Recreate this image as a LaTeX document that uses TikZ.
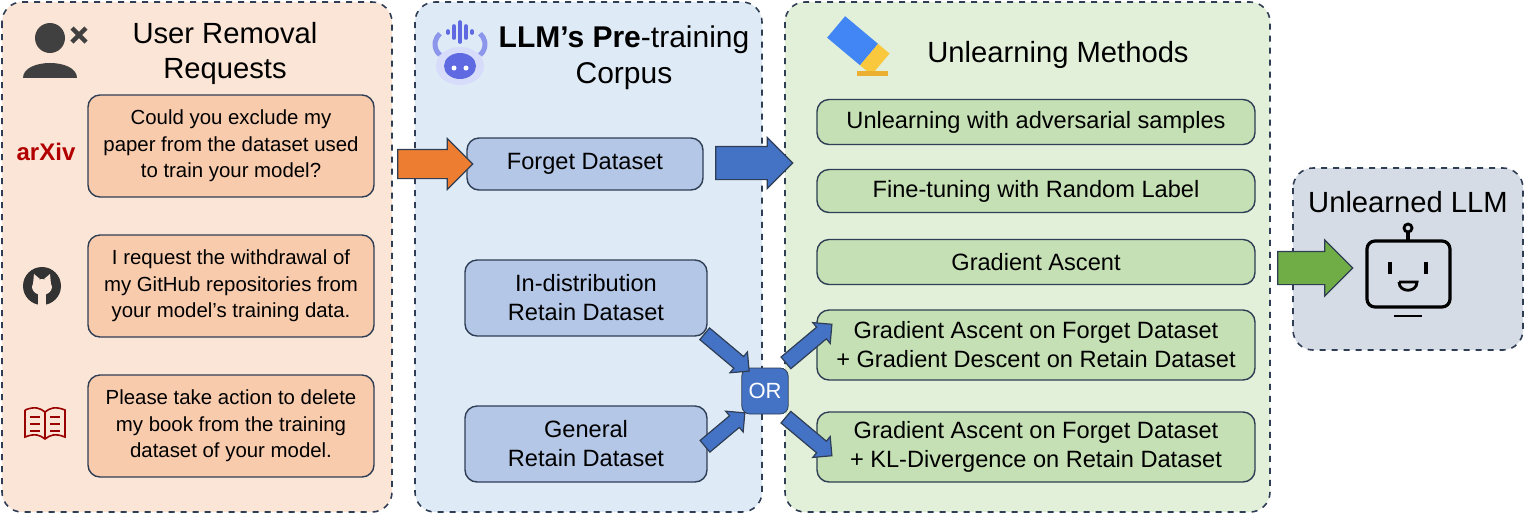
\documentclass[tikz,border=0pt]{standalone}
\usepackage{fontspec}
\setmainfont{Liberation Sans}
\usetikzlibrary{shapes.arrows,shapes.geometric}
\definecolor{pA}{HTML}{FBE5D6}\definecolor{pB}{HTML}{DEEBF7}\definecolor{pC}{HTML}{E2F0D9}\definecolor{pD}{HTML}{D6DCE5}
\definecolor{bA}{HTML}{F8CBAD}\definecolor{bB}{HTML}{B4C7E7}\definecolor{bC}{HTML}{C5E0B4}
\definecolor{edge}{HTML}{2F3E55}\definecolor{aO}{HTML}{ED7D31}\definecolor{aB}{HTML}{4472C4}\definecolor{aG}{HTML}{70AD47}
\begin{document}
\begin{tikzpicture}[x=0.5pt,y=-0.5pt,
 panel/.style={draw=edge,dashed,line width=0.8pt,rounded corners=10pt},
 box/.style={draw=edge,line width=0.7pt,rounded corners=6pt,align=center,font=\fontsize{10.2}{13.2}\selectfont},
 mbox/.style={box,font=\fontsize{11.8}{14.5}\selectfont},
 title/.style={font=\fontsize{14.6}{17.5}\selectfont,align=center},
 fat/.style n args={2}{single arrow,draw=edge,line width=0.6pt,inner sep=0pt,text height=0pt,text depth=0pt,
   minimum width=#2,single arrow head extend={(#2-#1)/2},shape border uses incircle=false,
   text width=0pt},
 fat/.style n args={2}{single arrow,draw=edge,line width=0.6pt,font=\fontsize{1}{1}\selectfont,
   inner ysep=#1/2,inner xsep=0pt,single arrow head extend=#2/2-#1/2}]
\useasboundingbox (0,0) rectangle (1527,516);
\draw[panel,fill=pA] (2,2) rectangle (392,512);
\draw[panel,fill=pB] (415,2) rectangle (762,512);
\draw[panel,fill=pC] (785,2) rectangle (1270,512);
\draw[panel,fill=pD] (1293,168) rectangle (1523,350);
% titles
\node[title] (t1) at (225,53) {User Removal\\Requests};
\node[title,font=\fontsize{15}{18}\selectfont] (t2) at (624,58) {\textbf{LLM's Pre}-training\\Corpus};
\node[title] (t3) at (1058,55) {Unlearning Methods};
\node[title] (t4) at (1408,202) {Unlearned LLM};
% person icon
\fill[black!75] (50,38) circle (15);
\fill[black!75] (23,78) .. controls (23,58) and (77,58) .. (77,78) -- cycle;
\draw[black!75,line width=2.2pt] (72,28)--(86,42) (86,28)--(72,42);
% arxiv
\node[text=red!70!black,font=\bfseries\fontsize{12}{14}\selectfont] (ax) at (46,152) {arXiv};
% github
\fill[black!80] (42,286) circle (19);
\fill[pA] (42,287) ellipse (10 and 8);
\fill[pA] (38,292) rectangle (46,306);
\fill[pA] (33,284) -- (34,274) -- (40,279) -- cycle (51,284) -- (50,274) -- (44,279) -- cycle;
% book
\begin{scope}[draw=red!60!black,line width=0.8pt]
\draw (25,410) -- (25,437) .. controls (35,433) and (40,435) .. (45,439) .. controls (50,435) and (55,433) .. (65,437) -- (65,410) .. controls (55,406) and (50,408) .. (45,412) .. controls (40,408) and (35,406) .. (25,410);
\draw (45,412)--(45,439);
\foreach \y in {417,424,431}{\draw (30,\y)--(40,\y) (50,\y)--(60,\y);}
\end{scope}
% request boxes
\node[box,fill=bA,minimum width=143pt,minimum height=51pt] (r1) at (231,146) {Could you exclude my\\paper from the dataset used\\to train your model?};
\node[box,fill=bA,minimum width=143pt,minimum height=51pt] (r2) at (231,286) {I request the withdrawal of\\my GitHub repositories from\\your model's training data.};
\node[box,fill=bA,minimum width=143pt,minimum height=51pt] (r3) at (231,426) {Please take action to delete\\my book from the training\\dataset of your model.};
% robot icon
\draw[color={rgb,255:red,140;green,150;blue,235},line width=2.5pt] (440,55) arc (130:230:14) (480,55) arc (50:-50:14);
\fill[color={rgb,255:red,215;green,220;blue,250}] (460,66) ellipse (24 and 19);
\fill[color={rgb,255:red,95;green,105;blue,225}] (460,66) ellipse (16 and 13);
\fill[white] (454,68) circle (2.5) (466,68) circle (2.5);
\draw[color={rgb,255:red,95;green,105;blue,225},line width=1.8pt,line cap=round] (448,31)--(448,33) (454,26)--(454,38) (460,22)--(460,42) (466,26)--(466,38) (472,31)--(472,33);
% corpus boxes
\node[box,mbox,fill=bB,minimum width=118pt,minimum height=26pt] (fd) at (585,164) {Forget Dataset};
\node[box,mbox,fill=bB,minimum width=121pt,minimum height=38pt] (id) at (586,298) {In-distribution\\Retain Dataset};
\node[box,mbox,fill=bB,minimum width=121pt,minimum height=38pt] (gd) at (586,444) {General\\Retain Dataset};
\node[draw=edge,fill=aB,rounded corners=4pt,minimum size=23pt,text=white,font=\fontsize{11}{13}\selectfont] (or) at (765,391) {OR};
% eraser
\begin{scope}[rotate around={-40:(855,48)}]
\fill[color={rgb,255:red,66;green,133;blue,244}] (827,30) rectangle (870,58);
\fill[color={rgb,255:red,250;green,200;blue,60}] (870,30) rectangle (885,58);
\end{scope}
\fill[color={rgb,255:red,235;green,175;blue,50}] (857,71) rectangle (888,76);
% methods
\foreach \n/\y/\h/\t in {m1/122/45/{Unlearning with adversarial samples},m2/191/43/{Fine-tuning with Random Label},m3/262/45/{Gradient Ascent},m4/345/70/{Gradient Ascent on Forget Dataset\\+ Gradient Descent on Retain Dataset},m5/447/70/{Gradient Ascent on Forget Dataset\\+ KL-Divergence on Retain Dataset}}
  \node[box,mbox,fill=bC,minimum width=219pt,minimum height=\h*0.5pt] (\n) at (1036,\y) {\t};
% unlearned robot
\draw[line width=1.6pt,rounded corners=4pt] (1367,241) rectangle (1450,307);
\draw[line width=1.6pt] (1408,241)--(1408,232);
\draw[line width=1.4pt] (1408,228) circle (4);
\draw[line width=1.8pt] (1390,262)--(1390,274) (1426,262)--(1426,274);
\draw[line width=1.4pt] (1399,282) -- (1417,282) .. controls (1417,293) and (1399,293) .. (1399,282);
\draw[line width=1.4pt] (1394,316)--(1422,316);
% arrows
\node[fat={14pt}{25pt},fill=aO,minimum height=37.5pt] (a1) at (428,164) {};
\node[fat={16pt}{25pt},fill=aB,minimum height=38.5pt] (a2) at (746,163) {};
\node[fat={16pt}{27.5pt},fill=aG,minimum height=37.5pt] (a3) at (1307,268) {};
\node[fat={7pt}{13pt},fill=aB,minimum height=29pt,rotate=-40] (o1) at (724,350) {};
\node[fat={7pt}{13pt},fill=aB,minimum height=26pt,rotate=40] (o2) at (722,432) {};
\node[fat={7pt}{13pt},fill=aB,minimum height=30pt,rotate=40] (o3) at (806,346) {};
\node[fat={7pt}{13pt},fill=aB,minimum height=30pt,rotate=-40] (o4) at (806,434) {};
\end{tikzpicture}
\end{document}
